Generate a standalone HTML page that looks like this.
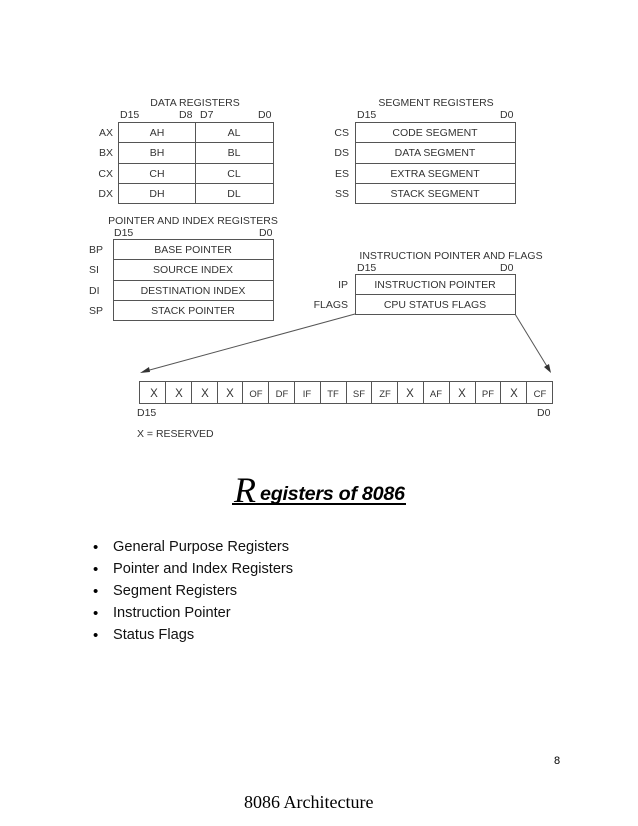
<!DOCTYPE html>
<html><head><meta charset="utf-8"><style>
body{margin:0;background:#fff;width:638px;height:826px;position:relative;overflow:hidden;font-family:"Liberation Sans",sans-serif}
.a{position:absolute;white-space:nowrap}
.b{font-size:14.6px;color:#111;left:113px}
.d{font-size:15px;left:93px}
</style></head><body>
<svg width="638" height="460" style="position:absolute;left:0;top:0" font-family="Liberation Sans, sans-serif" font-size="10.5" fill="#333">
<g stroke="#555" stroke-width="1" fill="none">
<rect x="118.5" y="122.5" width="155" height="81"/>
<line x1="195.5" y1="122" x2="195.5" y2="203"/>
<line x1="118" y1="142.5" x2="273" y2="142.5"/><line x1="118" y1="163.5" x2="273" y2="163.5"/><line x1="118" y1="183.5" x2="273" y2="183.5"/>
<rect x="355.5" y="122.5" width="160" height="81"/>
<line x1="355" y1="142.5" x2="515" y2="142.5"/><line x1="355" y1="163.5" x2="515" y2="163.5"/><line x1="355" y1="183.5" x2="515" y2="183.5"/>
<rect x="113.5" y="239.5" width="160" height="81"/>
<line x1="113" y1="259.5" x2="273" y2="259.5"/><line x1="113" y1="280.5" x2="273" y2="280.5"/><line x1="113" y1="300.5" x2="273" y2="300.5"/>
<rect x="355.5" y="274.5" width="160" height="40"/>
<line x1="355" y1="294.5" x2="515" y2="294.5"/>
<rect x="139.5" y="381.5" width="413" height="22"/>
<line x1="355" y1="314" x2="146" y2="371"/>
<line x1="515" y1="314" x2="548" y2="368"/>
</g>
<polygon points="140,373 149,367 150,372" fill="#333"/>
<polygon points="551,373 544,367 549,364" fill="#333"/>
<g stroke="#555">
<line x1="165.5" y1="381" x2="165.5" y2="403"/><line x1="191.5" y1="381" x2="191.5" y2="403"/><line x1="217.5" y1="381" x2="217.5" y2="403"/><line x1="242.5" y1="381" x2="242.5" y2="403"/><line x1="268.5" y1="381" x2="268.5" y2="403"/><line x1="294.5" y1="381" x2="294.5" y2="403"/><line x1="320.5" y1="381" x2="320.5" y2="403"/><line x1="346.5" y1="381" x2="346.5" y2="403"/><line x1="371.5" y1="381" x2="371.5" y2="403"/><line x1="397.5" y1="381" x2="397.5" y2="403"/><line x1="423.5" y1="381" x2="423.5" y2="403"/><line x1="449.5" y1="381" x2="449.5" y2="403"/><line x1="475.5" y1="381" x2="475.5" y2="403"/><line x1="500.5" y1="381" x2="500.5" y2="403"/><line x1="526.5" y1="381" x2="526.5" y2="403"/>
</g>
<g text-anchor="middle">
<text x="195" y="106">DATA REGISTERS</text>
<text x="436" y="106">SEGMENT REGISTERS</text>
<text x="193" y="224">POINTER AND INDEX REGISTERS</text>
<text x="451" y="259">INSTRUCTION POINTER AND FLAGS</text>
<text x="157" y="136">AH</text><text x="234" y="136">AL</text>
<text x="157" y="156">BH</text><text x="234" y="156">BL</text>
<text x="157" y="177">CH</text><text x="234" y="177">CL</text>
<text x="157" y="197">DH</text><text x="234" y="197">DL</text>
<text x="435" y="136">CODE SEGMENT</text><text x="435" y="156">DATA SEGMENT</text><text x="435" y="177">EXTRA SEGMENT</text><text x="435" y="197">STACK SEGMENT</text>
<text x="193" y="253">BASE POINTER</text><text x="193" y="273">SOURCE INDEX</text><text x="193" y="294">DESTINATION INDEX</text><text x="193" y="314">STACK POINTER</text>
<text x="435" y="288">INSTRUCTION POINTER</text><text x="435" y="308">CPU STATUS FLAGS</text>
<g font-size="11.5"><text x="154" y="397">X</text><text x="179" y="397">X</text><text x="205" y="397">X</text><text x="230" y="397">X</text></g>
<g font-size="9.5"><text x="256" y="397">OF</text><text x="282" y="397">DF</text><text x="307" y="397">IF</text><text x="333" y="397">TF</text><text x="359" y="397">SF</text><text x="385" y="397">ZF</text><text x="436" y="397">AF</text><text x="488" y="397">PF</text><text x="540" y="397">CF</text></g>
<g font-size="11.5"><text x="410" y="397">X</text><text x="462" y="397">X</text><text x="514" y="397">X</text></g>
</g>
<text x="120" y="118">D15</text><text x="179" y="118">D8</text><text x="200" y="118">D7</text><text x="258" y="118">D0</text>
<text x="357" y="118">D15</text><text x="500" y="118">D0</text>
<text x="114" y="236">D15</text><text x="259" y="236">D0</text>
<text x="357" y="271">D15</text><text x="500" y="271">D0</text>
<g text-anchor="end"><text x="113" y="136">AX</text><text x="113" y="156">BX</text><text x="113" y="177">CX</text><text x="113" y="197">DX</text>
<text x="349" y="136">CS</text><text x="349" y="156">DS</text><text x="349" y="177">ES</text><text x="349" y="197">SS</text>
<text x="348" y="288">IP</text><text x="348" y="308">FLAGS</text></g>
<text x="89" y="253">BP</text><text x="89" y="273">SI</text><text x="89" y="294">DI</text><text x="89" y="314">SP</text>
<text x="137" y="416">D15</text><text x="537" y="416">D0</text>
<text x="137" y="437">X = RESERVED</text>
</svg>
<div class="a" style="left:234px;top:472px;font-family:'Liberation Serif',serif;font-style:italic;font-size:36px;line-height:36px">R</div>
<div class="a" style="left:260px;top:483px;font-family:'Liberation Sans',sans-serif;font-style:italic;font-weight:bold;font-size:19.8px;line-height:22px;letter-spacing:-0.3px">egisters of 8086</div>
<div class="a" style="left:232px;top:503px;width:174px;height:2px;background:#000"></div>
<div class="a d" style="top:539px">•</div><div class="a b" style="top:539px">General Purpose Registers</div>
<div class="a d" style="top:561px">•</div><div class="a b" style="top:561px">Pointer and Index Registers</div>
<div class="a d" style="top:583px">•</div><div class="a b" style="top:583px">Segment Registers</div>
<div class="a d" style="top:605px">•</div><div class="a b" style="top:605px">Instruction Pointer</div>
<div class="a d" style="top:627px">•</div><div class="a b" style="top:627px">Status Flags</div>
<div class="a" style="left:554px;top:755px;font-size:11px">8</div>
<div class="a" style="left:244px;top:792px;font-family:'Liberation Serif',serif;font-size:18px">8086 Architecture</div>
</body></html>
